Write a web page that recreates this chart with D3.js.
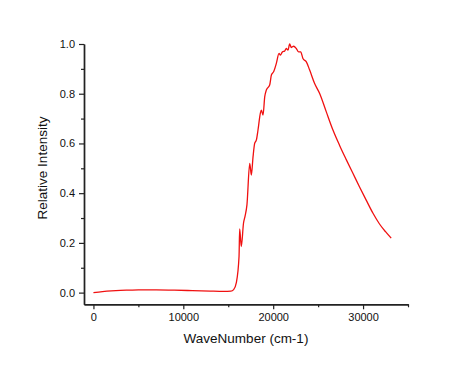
<!DOCTYPE html>
<html><head><meta charset="utf-8">
<script src="https://cdn.jsdelivr.net/npm/d3@7"></script>
<style>body{margin:0;background:#fff}svg{display:block}text{font-family:"Liberation Sans",Arial,sans-serif;fill:#111}</style>
</head><body>
<svg id="c" width="474" height="366"></svg>
<script>
const wavenumber = [0,1000,2000,3000,4000,5000,7000,9000,11000,13000,14500,15300,15600,15900,16200,16270,16450,16700,16860,17080,17390,17570,17760,17940,18130,18310,18570,18690,18870,19060,19240,19610,19800,20060,20350,20650,20800,21020,21280,21460,21650,21830,22020,22280,22570,22830,23060,23310,23690,24060,24610,25170,25910,26650,27390,28130,28870,29610,30350,31090,31830,32500,33130];
const intensity = [0.0,0.004,0.007,0.009,0.010,0.011,0.011,0.010,0.008,0.006,0.005,0.006,0.012,0.04,0.145,0.256,0.185,0.28,0.306,0.353,0.52,0.473,0.547,0.60,0.614,0.654,0.721,0.734,0.714,0.788,0.815,0.835,0.875,0.889,0.922,0.962,0.955,0.968,0.972,0.982,0.975,1.0,0.986,0.991,0.982,0.968,0.968,0.942,0.928,0.895,0.841,0.801,0.727,0.654,0.592,0.535,0.48,0.425,0.372,0.32,0.276,0.245,0.219];
const xMajorTicks = [0,10000,20000,30000];
const xMinorTicks = [5000,15000,25000,35000];
const yMajorTicks = [0,0.2,0.4,0.6,0.8,1.0];
const yMinorTicks = [0.1,0.3,0.5,0.7,0.9];
const xTitle = "WaveNumber (cm-1)";
const yTitle = "Relative Intensity";

const svg = d3.select("#c");
const x = d3.scaleLinear().domain([-1050,35000]).range([84,408]);
const y = d3.scaleLinear().domain([-0.047,1.0]).range([304.3,44]);

svg.append("g").attr("transform","translate(0,304.3)")
  .call(d3.axisBottom(x).tickValues(xMajorTicks).tickFormat(d3.format("d")).tickSize(5).tickPadding(4).tickSizeOuter(0));
svg.append("g").attr("transform","translate(0,304.3)")
  .call(d3.axisBottom(x).tickValues(xMinorTicks).tickFormat("").tickSize(3).tickSizeOuter(0));
svg.append("g").attr("transform","translate(84,0)")
  .call(d3.axisLeft(y).tickValues(yMajorTicks).tickFormat(d3.format(".1f")).tickSize(5).tickPadding(4).tickSizeOuter(0));
svg.append("g").attr("transform","translate(84,0)")
  .call(d3.axisLeft(y).tickValues(yMinorTicks).tickFormat("").tickSize(3).tickSizeOuter(0));
svg.selectAll(".domain").attr("stroke","#222").attr("stroke-width",1.4);
svg.selectAll(".tick line").attr("stroke","#222").attr("stroke-width",1.2);
svg.selectAll(".tick text").attr("font-size",11).attr("font-family","Liberation Sans, Arial, sans-serif").attr("fill","#111");

svg.append("text").attr("x",246).attr("y",343).attr("text-anchor","middle").attr("font-size",13.5).text(xTitle);
svg.append("text").attr("transform","translate(47,168) rotate(-90)").attr("text-anchor","middle").attr("font-size",13.5).text(yTitle);

const line = d3.line().x((d,i)=>x(wavenumber[i])).y(d=>y(d)).curve(d3.curveMonotoneX);
svg.append("path").datum(intensity).attr("d",line).attr("fill","none").attr("stroke","#f01010").attr("stroke-width",1.3);
</script>
</body></html>
